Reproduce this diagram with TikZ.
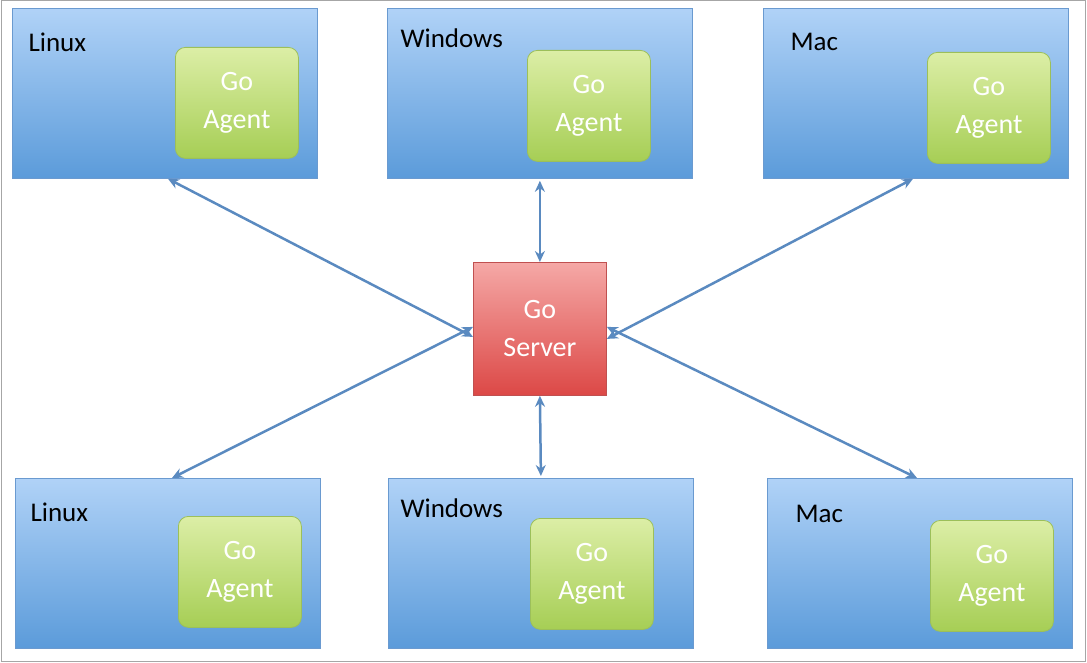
\documentclass[tikz,border=0pt]{standalone}
\usepackage{fontspec}
\setmainfont{Carlito}
\usetikzlibrary{arrows.meta}
\definecolor{bt}{HTML}{B0D2F7}\definecolor{bb}{HTML}{5B9BDA}\definecolor{bd}{HTML}{6A9AD0}
\definecolor{gt}{HTML}{DCEEA6}\definecolor{gb}{HTML}{A6CE55}\definecolor{gd}{HTML}{9CBF5A}
\definecolor{rt}{HTML}{F5A8A6}\definecolor{rb}{HTML}{DC4846}\definecolor{rd}{HTML}{C05050}
\definecolor{ac}{HTML}{5A8AC0}
\begin{document}
\begin{tikzpicture}[x=1pt,y=-1pt,
 os/.style={draw=bd,line width=0.8pt,top color=bt,bottom color=bb,minimum width=305pt,minimum height=170pt,anchor=north west,inner sep=0},
 ag/.style={draw=gd,line width=0.8pt,rounded corners=10pt,top color=gt,bottom color=gb,minimum width=123pt,minimum height=111pt,anchor=north west,text=white,font=\fontsize{28}{38}\selectfont,align=center},
 lb/.style={anchor=west,font=\fontsize{27}{32}\selectfont},
 arr/.style={draw=ac,line width=2.5pt,{Stealth[length=11pt,width=10pt]}-{Stealth[length=11pt,width=10pt]}}]
\useasboundingbox (0,0) rectangle (1087,663);
\draw[gray!70,line width=1pt] (1,1) rectangle (1085,661);
\node[os] (b1) at (12,8) {}; \node[lb] (l1) at (25,42) {Linux}; \node[ag] (a1) at (175,47) {Go\\Agent};
\node[os] (b2) at (387,8) {}; \node[lb] (l2) at (397,38) {Windows}; \node[ag] (a2) at (527,50) {Go\\Agent};
\node[os] (b3) at (763,8) {}; \node[lb] (l3) at (787,42) {Mac}; \node[ag] (a3) at (927,52) {Go\\Agent};
\node[os] (b4) at (15,478) {}; \node[lb] (l4) at (27,512) {Linux}; \node[ag] (a4) at (178,516) {Go\\Agent};
\node[os] (b5) at (388,478) {}; \node[lb] (l5) at (397,508) {Windows}; \node[ag] (a5) at (530,518) {Go\\Agent};
\node[os] (b6) at (767,478) {}; \node[lb] (l6) at (792,514) {Mac}; \node[ag] (a6) at (930,520) {Go\\Agent};
\node[draw=rd,line width=0.8pt,top color=rt,bottom color=rb,minimum width=133pt,minimum height=133pt,anchor=north west,text=white,font=\fontsize{28}{38}\selectfont,align=center,inner sep=0] (s) at (473,262) {Go\\Server};
\draw[arr] ([xshift=156pt]b1.south west) -- ([yshift=-8pt]s.west);
\draw[arr] ([yshift=-2pt]b2.south) -- (s.north);
\draw[arr] ([xshift=150pt]b3.south west) -- ([yshift=-10pt]s.east);
\draw[arr] ([xshift=157pt]b4.north west) -- ([yshift=2pt]s.west);
\draw[arr] ([yshift=2pt]b5.north) -- (s.south);
\draw[arr] ([xshift=150pt]b6.north west) -- ([yshift=2pt]s.east);
\end{tikzpicture}
\end{document}
